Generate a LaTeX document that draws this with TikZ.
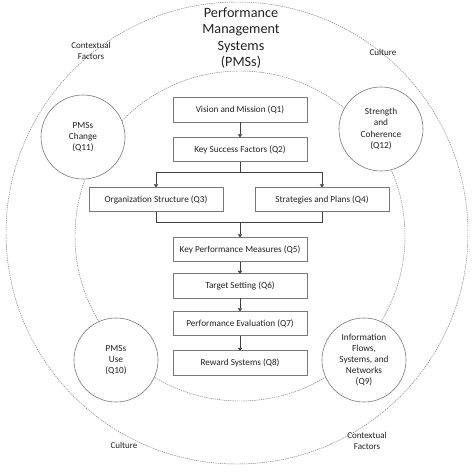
\documentclass[tikz,border=0pt]{standalone}
\usepackage{fontspec}
\setmainfont{Carlito}
\usetikzlibrary{arrows.meta}
\definecolor{lc}{RGB}{120,120,120}
\definecolor{tc}{RGB}{35,35,35}
\begin{document}
\begin{tikzpicture}[x=1pt,y=-1pt,
  box/.style={draw=lc, line width=0.6pt, fill=white, minimum width=134pt, minimum height=24.5pt, inner sep=0pt, outer sep=0pt, font=\fontsize{9.2}{10}\selectfont, text=tc},
  qcirc/.style={circle, draw=lc, line width=0.6pt, fill=white, minimum size=84pt, inner sep=0pt, outer sep=0pt, align=center, font=\fontsize{9.3}{11.2}\selectfont, text=tc},
  ring/.style={circle, draw=lc, line width=0.45pt, dash pattern=on 1.3pt off 0.9pt, inner sep=0pt, outer sep=0pt},
  lab/.style={align=center, font=\fontsize{9}{11}\selectfont, text=tc, inner sep=0pt},
  arr/.style={draw=black!75, line width=0.6pt, -{Triangle[length=3pt,width=4.5pt]}},
  conn/.style={draw=black!75, line width=0.6pt}]
\useasboundingbox (0,0) rectangle (474,474);
\fill[white] (0,0) rectangle (474,474);
% rings
\node[ring, minimum size=462pt] (outer) at (237,233) {};
\node[ring, minimum size=330pt] (inner) at (240,236) {};
% title
\node[align=center, font=\fontsize{14.2}{16.5}\selectfont, text=tc, inner sep=0pt] (title) at (241,38) {Performance\\Management\\Systems\\(PMSs)};
% ring labels
\node[lab] (cf1) at (91,51) {Contextual\\Factors};
\node[lab] (cu1) at (383,52) {Culture};
\node[lab] (cu2) at (124,445) {Culture};
\node[lab] (cf2) at (367,441) {Contextual\\Factors};
% small circles
\node[qcirc] (q11) at (83,137) {PMSs\\Change\\(Q11)};
\node[qcirc] (q12) at (381,129) {Strength\\and\\Coherence\\(Q12)};
\node[qcirc] (q10) at (116,360) {PMSs\\Use\\(Q10)};
\node[qcirc] (q9) at (364,360) {Information\\Flows,\\Systems, and\\Networks\\(Q9)};
% boxes
\node[box] (q1) at (240,110) {Vision and Mission (Q1)};
\node[box] (q2) at (240,149.5) {Key Success Factors (Q2)};
\node[box] (q3) at (156,199.5) {Organization Structure (Q3)};
\node[box] (q4) at (322,199.5) {Strategies and Plans (Q4)};
\node[box] (q5) at (240,249.5) {Key Performance Measures (Q5)};
\node[box] (q6) at (240,286) {Target Setting (Q6)};
\node[box] (q7) at (240,323.5) {Performance Evaluation (Q7)};
\node[box] (q8) at (240,363) {Reward Systems (Q8)};
% connectors
\coordinate (j1) at (240,172);
\coordinate (j2) at (240,222);
\draw[arr] (q1) -- (q2);
\draw[conn] (q2.south) -- (j1);
\draw[arr] (j1) -| (q3.north);
\draw[arr] (j1) -| (q4.north);
\draw[conn] (q3.south) |- (j2);
\draw[conn] (q4.south) |- (j2);
\draw[arr] (j2) -- (q5.north);
\draw[arr] (q5) -- (q6);
\draw[arr] (q6) -- (q7);
\draw[arr] (q7) -- (q8);
\end{tikzpicture}
\end{document}
